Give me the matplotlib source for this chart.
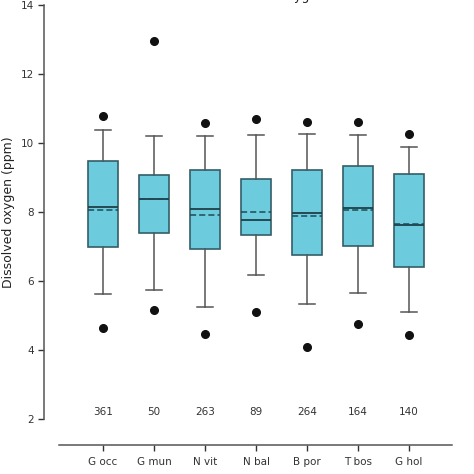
import matplotlib
matplotlib.use("Agg")
import matplotlib.pyplot as plt

species = ["G occ", "G mun", "N vit", "N bal", "B por", "T bos", "G hol"]
counts = [361, 50, 263, 89, 264, 164, 140]
whislo = [5.62, 5.73, 5.24, 6.18, 5.34, 5.66, 5.11]
q1 = [7.00, 7.40, 6.92, 7.32, 6.74, 7.01, 6.41]
medians = [8.15, 8.37, 8.08, 7.78, 7.98, 8.11, 7.62]
means = [8.07, 8.38, 7.92, 8.01, 7.89, 8.07, 7.64]
q3 = [9.47, 9.07, 9.23, 8.95, 9.22, 9.34, 9.10]
whishi = [10.38, 10.21, 10.21, 10.24, 10.27, 10.24, 9.88]
out_low = [4.63, 5.17, 4.47, 5.11, 4.10, 4.75, 4.43]
out_high = [10.78, 12.95, 10.58, 10.70, 10.62, 10.62, 10.26]

fig = plt.figure(figsize=(4.74, 4.74), dpi=100)
ax = fig.add_axes([59/474, 1-419/474, (452-59)/474, (419-5)/474])

stats = []
for i in range(len(species)):
    stats.append(dict(whislo=whislo[i], q1=q1[i], med=medians[i], q3=q3[i],
                      whishi=whishi[i], mean=means[i], fliers=[out_low[i], out_high[i]]))
edge = "#335e68"
pos = list(range(1, len(species) + 1))
ax.bxp(stats, positions=pos, widths=0.6, patch_artist=True, showmeans=True, meanline=True,
       boxprops=dict(facecolor="#6ccbdc", edgecolor=edge, linewidth=1.2),
       medianprops=dict(color="#1f3f48", linewidth=1.3),
       meanprops=dict(color="#1f4a55", linestyle=(0, (4, 2)), linewidth=1.1),
       whiskerprops=dict(color="#555555", linewidth=1.1),
       capprops=dict(color="#555555", linewidth=1.1),
       capwidths=0.3,
       flierprops=dict(marker="o", markerfacecolor="#111111", markeredgecolor="#111111", markersize=5.5))

for p, c in zip(pos, counts):
    ax.text(p, 2.05, str(c), ha="center", va="bottom", fontsize=7.5, color="#333333")

ax.set_xlim(0.14, 7.84)
ax.set_ylim(2, 14)
ax.set_yticks([2, 4, 6, 8, 10, 12, 14])
ax.set_xticks(pos)
ax.set_xticklabels(species)
ax.tick_params(labelsize=7.5, colors="#333333", length=4, width=1)
ax.tick_params(axis="x", pad=5)
for s in ["top", "right"]:
    ax.spines[s].set_visible(False)
ax.spines["left"].set_position(("outward", 10.8))
ax.spines["bottom"].set_position(("outward", 18.7))
for s in ["left", "bottom"]:
    ax.spines[s].set_color("#555555")
    ax.spines[s].set_linewidth(1.1)
ax.set_ylabel("Dissolved oxygen (ppm)", fontsize=9, color="#222222")
fig.text(270/474, 0.993, "Dissolved oxygen", ha="center", va="bottom", fontsize=9, color="#222222")
fig.savefig("out.png", dpi=100)
